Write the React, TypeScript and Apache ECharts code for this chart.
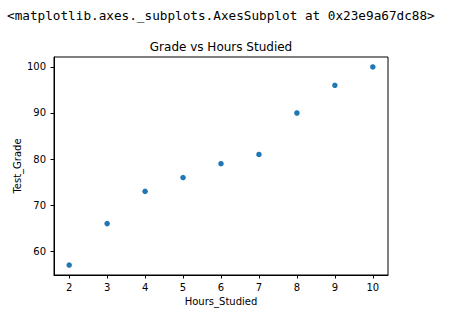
import React, { useEffect, useRef } from "react";
import * as echarts from "echarts";

const hoursStudied = [2, 3, 4, 5, 6, 7, 8, 9, 10];
const testGrade = [57, 66, 73, 76, 79, 81, 90, 96, 100];
const xTicks = [2, 3, 4, 5, 6, 7, 8, 9, 10];
const yTicks = [60, 70, 80, 90, 100];
const headerText = "<matplotlib.axes._subplots.AxesSubplot at 0x23e9a67dc88>";
const titleText = "Grade vs Hours Studied";
const xName = "Hours_Studied";
const yName = "Test_Grade";

export default function App() {
  const ref = useRef<HTMLDivElement>(null);
  useEffect(() => {
    if (!ref.current) return;
    const chart = echarts.init(ref.current, null, { renderer: "svg" });
    const font = "DejaVu Sans";
    const gridLeft = 54;
    const gridTop = 57;
    const gridWidth = 334;
    const gridHeight = 218;
    chart.setOption({
      animation: false,
      backgroundColor: "#ffffff",
      grid: {
        left: gridLeft,
        top: gridTop,
        width: gridWidth,
        height: gridHeight,
        show: true,
        borderColor: "#000000",
        borderWidth: 1,
        backgroundColor: "transparent",
      },
      graphic: [
        {
          type: "text",
          left: 7,
          top: 9,
          style: {
            text: headerText,
            font: "12.7px 'DejaVu Sans Mono'",
            fill: "#000000",
          },
        },
        {
          type: "text",
          x: gridLeft + gridWidth / 2,
          y: 47,
          style: {
            text: titleText,
            font: `12px '${font}'`,
            fill: "#000000",
            align: "center",
            verticalAlign: "middle",
          },
        },
      ],
      xAxis: {
        type: "value",
        min: 1.6,
        max: 10.4,
        name: xName,
        nameLocation: "middle",
        nameGap: 21,
        nameMoveOverlap: false,
        nameTextStyle: { fontFamily: font, fontSize: 10, color: "#000000" },
        axisLine: { show: true, lineStyle: { color: "#000000", width: 1 } },
        axisTick: {
          show: true,
          inside: false,
          length: 3.5,
          customValues: xTicks,
          lineStyle: { color: "#000000", width: 1 },
        },
        axisLabel: {
          show: true,
          margin: 7,
          customValues: xTicks,
          fontFamily: font,
          fontSize: 10,
          color: "#000000",
        },
        splitLine: { show: false },
      },
      yAxis: {
        type: "value",
        min: 54.85,
        max: 102.15,
        name: yName,
        nameLocation: "middle",
        nameGap: 32,
        nameMoveOverlap: false,
        nameRotate: 90,
        nameTextStyle: { fontFamily: font, fontSize: 10, color: "#000000" },
        axisLine: { show: true, lineStyle: { color: "#000000", width: 1 } },
        axisTick: {
          show: true,
          inside: false,
          length: 3.5,
          customValues: yTicks,
          lineStyle: { color: "#000000", width: 1 },
        },
        axisLabel: {
          show: true,
          margin: 8,
          customValues: yTicks,
          fontFamily: font,
          fontSize: 10,
          color: "#000000",
        },
        splitLine: { show: false },
      },
      series: [
        {
          type: "scatter",
          data: hoursStudied.map((h, i) => [h, testGrade[i]]),
          symbol: "circle",
          symbolSize: 5.5,
          itemStyle: { color: "#1f77b4", opacity: 1 },
        },
      ],
    });
    return () => chart.dispose();
  }, []);
  return (
    <div
      ref={ref}
      style={{ position: "fixed", left: 0, top: 0, width: 451, height: 320 }}
    />
  );
}
